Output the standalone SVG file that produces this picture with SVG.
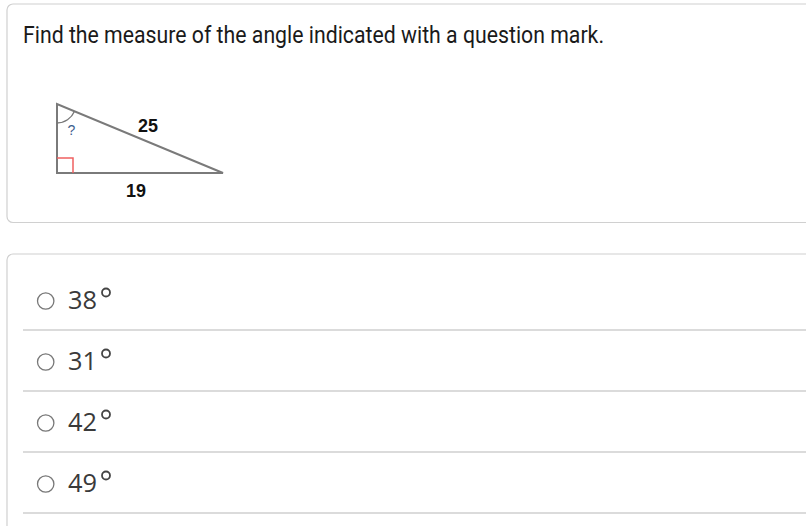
<svg xmlns="http://www.w3.org/2000/svg" width="806" height="526" viewBox="0 0 806 526">
<style>
.box{fill:#fff;stroke:#d0d0d0;stroke-width:1.2}
.sep{stroke:#cfcfcf;stroke-width:1.5}
.title{font-family:Roboto,"Liberation Sans",sans-serif;font-size:23.5px;fill:#1a1a1a}
.lbl{font-family:"Liberation Sans",Arial,sans-serif;font-weight:bold;font-size:18px;fill:#111}
.opt{font-family:"Open Sans","DejaVu Sans",sans-serif;font-size:26px;fill:#3a3a3a}
.radio{fill:#fff;stroke:#777;stroke-width:1.3}
.deg{fill:none;stroke:#444;stroke-width:1.8}
.tri{fill:none;stroke:#7a7a7a;stroke-width:2}
</style>
<rect width="806" height="526" fill="#fff"/>
<g id="question">
<rect class="box" x="7" y="4" width="820" height="218.5" rx="6"/>
<text class="title" x="23" y="43" textLength="581" lengthAdjust="spacingAndGlyphs">Find the measure of the angle indicated with a question mark.</text>
</g>
<g id="triangle">
<polygon class="tri" points="57,104 57,173 223,173" stroke-linejoin="miter"/>
<path d="M57,158 H73 V173" fill="none" stroke="#f06060" stroke-width="1.5"/>
<path d="M57,123 A19,19 0 0 0 74.5,111.3" fill="none" stroke="#777" stroke-width="1.3"/>
<text x="71.5" y="135" font-family="'Liberation Sans',Arial,sans-serif" font-size="14" fill="#3d5e8e" text-anchor="middle">?</text>
<text class="lbl" x="148" y="132" text-anchor="middle" textLength="20" lengthAdjust="spacingAndGlyphs">25</text>
<text class="lbl" x="136" y="197" text-anchor="middle" textLength="20" lengthAdjust="spacingAndGlyphs">19</text>
</g>
<g id="answers">
<rect class="box" x="7" y="254" width="820" height="300" rx="6"/>
<g id="opt1">
<circle class="radio" cx="45.7" cy="301" r="8.2"/>
<text class="opt" x="68" y="309" textLength="29" lengthAdjust="spacingAndGlyphs">38</text>
<circle class="deg" cx="106" cy="292.5" r="4"/>
</g>
<g id="opt2">
<circle class="radio" cx="45.7" cy="362" r="8.2"/>
<text class="opt" x="68" y="370" textLength="29" lengthAdjust="spacingAndGlyphs">31</text>
<circle class="deg" cx="106" cy="353.5" r="4"/>
</g>
<g id="opt3">
<circle class="radio" cx="45.7" cy="423" r="8.2"/>
<text class="opt" x="68" y="431" textLength="29" lengthAdjust="spacingAndGlyphs">42</text>
<circle class="deg" cx="106" cy="414.5" r="4"/>
</g>
<g id="opt4">
<circle class="radio" cx="45.7" cy="484" r="8.2"/>
<text class="opt" x="68" y="492" textLength="29" lengthAdjust="spacingAndGlyphs">49</text>
<circle class="deg" cx="106" cy="475.5" r="4"/>
</g>
<line class="sep" x1="23" y1="330" x2="806" y2="330"/>
<line class="sep" x1="23" y1="391" x2="806" y2="391"/>
<line class="sep" x1="23" y1="452" x2="806" y2="452"/>
<line class="sep" x1="23" y1="513" x2="806" y2="513"/>
</g>
</svg>
